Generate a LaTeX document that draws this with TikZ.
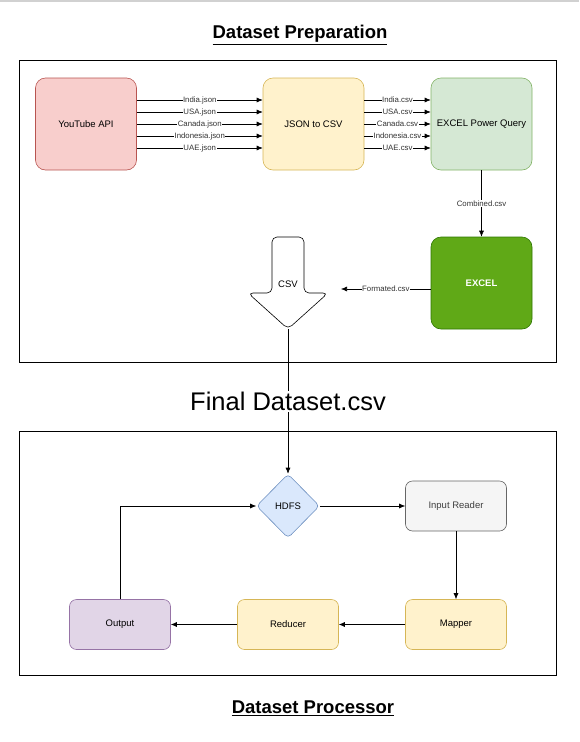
\documentclass[tikz,border=0pt]{standalone}
\usepackage{fontspec}
\setmainfont{Liberation Sans}
\usetikzlibrary{shapes.geometric,arrows.meta}

\definecolor{ytfill}{HTML}{F8CECC}
\definecolor{ytline}{HTML}{B85450}
\definecolor{yelfill}{HTML}{FFF2CC}
\definecolor{yelline}{HTML}{D6B656}
\definecolor{grnfill}{HTML}{D5E8D4}
\definecolor{grnline}{HTML}{82B366}
\definecolor{xlfill}{HTML}{60A917}
\definecolor{xlline}{HTML}{2D7600}
\definecolor{bluefill}{HTML}{DAE8FC}
\definecolor{blueline}{HTML}{6C8EBF}
\definecolor{greyfill}{HTML}{F5F5F5}
\definecolor{greyline}{HTML}{666666}
\definecolor{purfill}{HTML}{E1D5E7}
\definecolor{purline}{HTML}{9673A6}

\tikzset{
  bigbox/.style={draw, rounded corners=10pt, minimum width=101pt, minimum height=92pt, inner sep=2pt, font=\fontsize{9.5}{11}\selectfont, line width=0.6pt},
  smallbox/.style={draw, rounded corners=7pt, minimum width=101pt, minimum height=50pt, inner sep=2pt, font=\fontsize{9.5}{11}\selectfont, line width=0.6pt},
  lbl/.style={fill=white, inner sep=0.5pt, font=\fontsize{7.8}{8}\selectfont, text=black!80},
  title/.style={font=\fontsize{18.5}{20}\selectfont\bfseries},
  arr/.style={-{Latex[length=6pt,width=5pt]}, line width=0.6pt}
}

\begin{document}
\begin{tikzpicture}[x=1pt, y=-1pt]
  \useasboundingbox (0,0) rectangle (579,742);
  \draw [black!18, line width=1.5pt] (0,1) -- (579,1);

  % preparation part
  \node [title] (prep) at (300,35) {\underline{Dataset Preparation}};
  \draw [line width=0.7pt] (19,60) rectangle (556,362);

  \node [bigbox, fill=ytfill, draw=ytline] (yt) at (86,124) {YouTube API};
  \node [bigbox, fill=yelfill, draw=yelline] (conv) at (313.5,124) {JSON to CSV};
  \node [bigbox, fill=grnfill, draw=grnline] (pq) at (481.5,124) {EXCEL Power Query};
  \node [bigbox, fill=xlfill, draw=xlline, text=white, font=\fontsize{9.5}{11}\selectfont\bfseries] (xl) at (481.5,283) {EXCEL};

  \draw [arr] (yt.east |- 0,100) -- (conv.west |- 0,100) node [lbl, midway] {India.json};
  \draw [arr] (yt.east |- 0,112) -- (conv.west |- 0,112) node [lbl, midway] {USA.json};
  \draw [arr] (yt.east |- 0,124) -- (conv.west |- 0,124) node [lbl, midway] {Canada.json};
  \draw [arr] (yt.east |- 0,136) -- (conv.west |- 0,136) node [lbl, midway] {Indonesia.json};
  \draw [arr] (yt.east |- 0,148) -- (conv.west |- 0,148) node [lbl, midway] {UAE.json};

  \draw [arr] (conv.east |- 0,100) -- (pq.west |- 0,100) node [lbl, midway] {India.csv};
  \draw [arr] (conv.east |- 0,112) -- (pq.west |- 0,112) node [lbl, midway] {USA.csv};
  \draw [arr] (conv.east |- 0,124) -- (pq.west |- 0,124) node [lbl, midway] {Canada.csv};
  \draw [arr] (conv.east |- 0,136) -- (pq.west |- 0,136) node [lbl, midway] {Indonesia.csv};
  \draw [arr] (conv.east |- 0,148) -- (pq.west |- 0,148) node [lbl, midway] {UAE.csv};

  \draw [arr] (pq) -- (xl) node [lbl, midway] {Combined.csv};

  % big csv arrow
  \draw [line width=0.6pt, rounded corners=5pt] (248,293) -- (272,293) -- (272,237) -- (304,237) -- (304,293) -- (328,293) -- (288,329) -- cycle;
  \node [font=\fontsize{9.5}{11}\selectfont] (csv) at (288,284) {CSV};
  \coordinate (csvtip) at (288,329);
  \coordinate (csvside) at (341,289);
  \draw [arr] (xl.west |- csvside) -- (csvside) node [lbl, midway] {Formated.csv};

  % processing part
  \draw [line width=0.7pt] (19,431) rectangle (556,675);
  \node [diamond, draw=blueline, fill=bluefill, line width=0.6pt, rounded corners=4pt, minimum width=63pt, minimum height=64pt, inner sep=0pt, font=\fontsize{9.5}{11}\selectfont] (hdfs) at (288,506) {HDFS};
  \draw [arr] (csvtip) -- (hdfs.north) node [midway, fill=white, inner sep=1pt, font=\fontsize{25.5}{28}\selectfont] (final) {Final Dataset.csv};

  \node [smallbox, fill=greyfill, draw=greyline, text=black!75] (reader) at (456,506) {Input Reader};
  \node [smallbox, fill=yelfill, draw=yelline] (mapper) at (456,624.5) {Mapper};
  \node [smallbox, fill=yelfill, draw=yelline] (reducer) at (288,624.5) {Reducer};
  \node [smallbox, fill=purfill, draw=purline] (output) at (120,624.5) {Output};

  \draw [arr] (hdfs) -- (reader);
  \draw [arr] (reader) -- (mapper);
  \draw [arr] (mapper) -- (reducer);
  \draw [arr] (reducer) -- (output);
  \draw [arr] (output.north) |- (hdfs.west);

  \node [title] (proc) at (313,708) {\underline{Dataset Processor}};
\end{tikzpicture}
\end{document}
